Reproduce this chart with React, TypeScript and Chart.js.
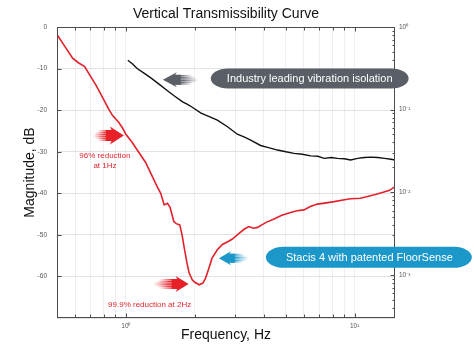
import React, { useEffect, useRef } from 'react';
import { Chart, registerables } from 'chart.js';

Chart.register(...registerables);

// ---------- data ----------
const redFreq = [0.5, 0.54, 0.585, 0.62, 0.66, 0.703, 0.74, 0.778, 0.846, 0.875, 0.93, 0.967, 1.0, 1.06, 1.14, 1.22, 1.29, 1.37, 1.42, 1.47, 1.52, 1.56, 1.62, 1.66, 1.72, 1.76, 1.8, 1.85, 1.89, 1.95, 2.0, 2.09, 2.17, 2.23, 2.3, 2.38, 2.51, 2.64, 2.8, 2.92, 3.13, 3.3, 3.45, 3.6, 3.76, 4.1, 4.44, 4.8, 5.25, 5.6, 6.0, 6.4, 6.87, 7.5, 8.13, 8.9, 9.6, 10.6, 11.5, 12.3, 13.2, 14.2, 15.0];
const redDb = [-1.8, -4.6, -7.5, -8.6, -9.5, -12.0, -14.0, -16.2, -20.0, -21.3, -22.9, -24.3, -25.8, -27.6, -30.2, -32.6, -35.4, -38.4, -40.0, -42.8, -42.4, -43.4, -46.8, -47.3, -47.6, -50.0, -53.2, -56.8, -59.2, -60.8, -61.4, -62.0, -61.6, -60.4, -58.2, -55.6, -53.6, -52.3, -51.6, -51.0, -49.6, -48.6, -48.0, -48.4, -48.2, -47.0, -46.2, -45.3, -44.6, -44.2, -44.0, -43.2, -42.6, -42.3, -42.0, -41.6, -41.3, -41.2, -40.7, -40.3, -39.8, -39.3, -38.4];

const blackFreq = [1.02, 1.07, 1.12, 1.2, 1.29, 1.4, 1.5, 1.63, 1.77, 1.86, 1.95, 2.13, 2.3, 2.51, 2.78, 3.07, 3.3, 3.51, 3.88, 4.2, 4.6, 5.0, 5.43, 5.9, 6.43, 6.9, 7.35, 7.9, 8.4, 9.0, 9.6, 10.3, 11.0, 11.8, 12.6, 13.5, 14.4, 15.0];
const blackDb = [-8.0, -8.9, -10.0, -11.1, -12.3, -13.8, -15.1, -16.6, -18.0, -18.6, -19.3, -20.7, -21.5, -22.4, -24.0, -25.8, -26.5, -27.2, -28.5, -29.0, -29.6, -30.0, -30.4, -30.6, -31.0, -31.1, -31.6, -31.4, -31.6, -31.7, -32.0, -31.6, -31.4, -31.3, -31.4, -31.6, -31.8, -32.0];

const xTickValues = [0.5, 0.6, 0.7, 0.8, 0.9, 1, 2, 3, 4, 5, 6, 7, 8, 9, 10];
const xTickLabels: Record<string, string> = { '1': '10\u2070', '10': '10\u00B9' };
const leftTickValues = [0, -10, -20, -30, -40, -50, -60, -70];
const leftTickLabels = ['0', '-10', '-20', '-30', '-40', '-50', '-60', ''];
const rightMajorValues = [1, 0.1, 0.01, 0.001];
const rightMajorLabels = ['10\u2070', '10\u207B\u00B9', '10\u207B\u00B2', '10\u207B\u00B3'];
const rightMinorMultipliers = [2, 3, 4, 5, 6, 7, 8, 9];

const TITLE = 'Vertical Transmissibility Curve';
const X_TITLE = 'Frequency, Hz';
const Y_TITLE = 'Magnitude, dB';

// annotations (data coordinates: frequency, dB)
const greyPill = { from: 2.35, to: 17.2, db: -12.4, text: 'Industry leading vibration isolation' };
const bluePill = { from: 4.09, to: 32.5, db: -55.4, text: 'Stacis 4 with patented FloorSense' };
const arrowRed1 = { tip: 0.98, db: -26.1 };
const arrowRed2 = { tip: 1.88, db: -61.8 };
const arrowGrey = { tip: 1.45, db: -12.7 };
const arrowBlue = { tip: 2.55, db: -55.6 };
const note1 = { f: 0.81, db1: -31.0, db2: -33.4, line1: '96% reduction', line2: 'at 1Hz' };
const note2 = { f: 1.27, db: -66.8, text: '99.9% reduction at 2Hz' };

const RED = '#e3212b';
const FONT = '"Liberation Sans", Arial, Helvetica, sans-serif';
const AXIS = '#4d4d4d';

function pillPath(ctx: CanvasRenderingContext2D, x0: number, x1: number, cy: number, h: number) {
  const ry = h / 2;
  const rx = Math.min(ry * 1.7, (x1 - x0) / 2);
  ctx.beginPath();
  ctx.moveTo(x0 + rx, cy - ry);
  ctx.lineTo(x1 - rx, cy - ry);
  ctx.ellipse(x1 - rx, cy, rx, ry, 0, -Math.PI / 2, Math.PI / 2);
  ctx.lineTo(x0 + rx, cy + ry);
  ctx.ellipse(x0 + rx, cy, rx, ry, 0, Math.PI / 2, Math.PI * 1.5);
  ctx.closePath();
}

function speedArrow(ctx: CanvasRenderingContext2D, tipX: number, cy: number, dir: number, len: number,
  headLen: number, headHalf: number, bodyHalf: number, rgb: number[]) {
  const baseX = tipX - dir * headLen;
  const col = (a: number) => `rgba(${rgb[0]},${rgb[1]},${rgb[2]},${a})`;
  const n = 6;
  const stripeH = (2 * bodyHalf) / n;
  for (let i = 0; i < n; i++) {
    const t = (i + 0.5) / n;
    const yy = cy - bodyHalf + i * stripeH;
    const frac = 1 - Math.abs(t - 0.5) * 0.8;
    const endX = baseX - dir * (len - headLen) * frac;
    const g = ctx.createLinearGradient(baseX + dir * 1, 0, endX, 0);
    g.addColorStop(0, col(1));
    g.addColorStop(0.35, col(0.9));
    g.addColorStop(1, col(0));
    ctx.fillStyle = g;
    ctx.fillRect(Math.min(baseX + dir, endX), yy + 0.15, Math.abs(endX - baseX - dir), stripeH - 0.3);
  }
  ctx.fillStyle = col(1);
  ctx.beginPath();
  ctx.moveTo(tipX, cy);
  ctx.lineTo(baseX, cy - headHalf);
  ctx.lineTo(baseX + dir * headLen * 0.12, cy - bodyHalf);
  ctx.lineTo(baseX - dir * 4, cy - bodyHalf);
  ctx.lineTo(baseX - dir * 4, cy + bodyHalf);
  ctx.lineTo(baseX + dir * headLen * 0.12, cy + bodyHalf);
  ctx.lineTo(baseX, cy + headHalf);
  ctx.closePath();
  ctx.fill();
}

const framePlugin = {
  id: 'frame',
  afterDraw(chart: any) {
    const { ctx, chartArea: a, scales } = chart;
    const xs = scales.x, ys = scales.y, y2 = scales.y2;
    const L = Math.round(a.left) + 0.5, R = Math.round(a.right) - 0.5;
    const T = Math.round(a.top) + 0.5, B = Math.round(a.bottom) - 0.5;
    ctx.save();
    // title
    ctx.fillStyle = '#111';
    ctx.font = `14px ${FONT}`;
    ctx.textAlign = 'center';
    ctx.textBaseline = 'middle';
    ctx.fillText(TITLE, (a.left + a.right) / 2, 14);
    // ticks
    ctx.strokeStyle = AXIS;
    ctx.lineWidth = 1;
    ctx.beginPath();
    for (const v of xTickValues) {
      const px = Math.round(xs.getPixelForValue(v)) + 0.5;
      if (px <= L + 1 || px >= R - 1) continue;
      const len = xTickLabels[String(v)] ? 4 : 3;
      ctx.moveTo(px, B); ctx.lineTo(px, B - len);
      ctx.moveTo(px, T); ctx.lineTo(px, T + len);
    }
    for (const v of leftTickValues) {
      const py = Math.round(ys.getPixelForValue(v)) + 0.5;
      if (py <= T + 1 || py >= B - 1) continue;
      ctx.moveTo(L, py); ctx.lineTo(L + 4, py);
    }
    const e0 = Math.floor(Math.log10(y2.min)), e1 = Math.ceil(Math.log10(y2.max));
    for (let e = e0; e <= e1; e++) {
      for (const m of [1, ...rightMinorMultipliers]) {
        const v = m * Math.pow(10, e);
        if (v < y2.min || v > y2.max) continue;
        const py = Math.round(y2.getPixelForValue(v)) + 0.5;
        if (py <= T + 1 || py >= B - 1) continue;
        const len = m === 1 ? 4 : 2;
        ctx.moveTo(R, py); ctx.lineTo(R - len, py);
      }
    }
    ctx.stroke();
    // box
    ctx.strokeStyle = AXIS;
    ctx.strokeRect(L, T, R - L, B - T);

    // annotations
    const px = (f: number) => xs.getPixelForValue(f);
    const py = (d: number) => ys.getPixelForValue(d);

    // grey pill
    pillPath(ctx, px(greyPill.from), px(greyPill.to), py(greyPill.db), 20);
    ctx.fillStyle = '#5a5e66';
    ctx.fill();
    ctx.fillStyle = '#ffffff';
    ctx.font = `11px ${FONT}`;
    ctx.textAlign = 'center';
    ctx.textBaseline = 'middle';
    ctx.fillText(greyPill.text, (px(greyPill.from) + px(greyPill.to)) / 2, py(greyPill.db) + 0.5);

    // blue pill
    pillPath(ctx, px(bluePill.from), px(bluePill.to), py(bluePill.db), 21);
    ctx.fillStyle = '#1b97c9';
    ctx.fill();
    ctx.fillStyle = '#ffffff';
    ctx.fillText(bluePill.text, (px(bluePill.from) + px(bluePill.to)) / 2 + 0.5, py(bluePill.db) + 0.5);

    // arrows
    speedArrow(ctx, px(arrowRed1.tip), py(arrowRed1.db), 1, 32, 14, 9, 5.5, [232, 33, 40]);
    speedArrow(ctx, px(arrowRed2.tip), py(arrowRed2.db), 1, 37, 13, 8, 5, [232, 33, 40]);
    speedArrow(ctx, px(arrowGrey.tip), py(arrowGrey.db), -1, 37, 14, 7.5, 5, [90, 94, 102]);
    speedArrow(ctx, px(arrowBlue.tip), py(arrowBlue.db), -1, 31, 12, 7, 4.5, [27, 151, 201]);

    // red notes
    ctx.fillStyle = '#e5262e';
    ctx.font = `8px ${FONT}`;
    ctx.textAlign = 'center';
    ctx.textBaseline = 'middle';
    ctx.fillText(note1.line1, px(note1.f), py(note1.db1));
    ctx.fillText(note1.line2, px(note1.f), py(note1.db2));
    ctx.fillText(note2.text, px(note2.f), py(note2.db));
    ctx.restore();
  },
};

export default function App() {
  const ref = useRef<HTMLCanvasElement>(null);
  useEffect(() => {
    const canvas = ref.current!;
    const chart = new Chart(canvas, {
      type: 'line',
      data: {
        datasets: [
          {
            label: 'Industry leading vibration isolation',
            data: blackFreq.map((f, i) => ({ x: f, y: blackDb[i] })),
            borderColor: '#111111',
            borderWidth: 1.4,
            pointRadius: 0,
            tension: 0,
            fill: false,
            xAxisID: 'x',
            yAxisID: 'y',
          },
          {
            label: 'Stacis 4 with patented FloorSense',
            data: redFreq.map((f, i) => ({ x: f, y: redDb[i] })),
            borderColor: RED,
            borderWidth: 1.6,
            pointRadius: 0,
            tension: 0,
            fill: false,
            xAxisID: 'x',
            yAxisID: 'y',
          },
        ],
      },
      options: {
        responsive: false,
        animation: false,
        devicePixelRatio: 1,
        layout: { padding: { top: 27, left: 0, right: 0, bottom: 0 } },
        plugins: {
          legend: { display: false },
          tooltip: { enabled: false },
          title: { display: false },
        },
        scales: {
          x: {
            type: 'logarithmic',
            position: 'bottom',
            min: 0.5,
            max: 15,
            afterBuildTicks: (s: any) => { s.ticks = xTickValues.map((v) => ({ value: v })); },
            afterFit: (s: any) => { s.height = 39; },
            grid: { color: '#efefef', lineWidth: 1, drawTicks: false },
            border: { display: false },
            ticks: {
              autoSkip: false,
              maxRotation: 0,
              padding: 4,
              color: '#555',
              font: { family: FONT, size: 6.5 },
              callback: (v: any) => xTickLabels[String(v)] ?? '',
            },
            title: {
              display: true,
              text: X_TITLE,
              color: '#111',
              font: { family: FONT, size: 14 },
              padding: { top: 0, bottom: 13 },
            },
          },
          y: {
            type: 'linear',
            position: 'left',
            min: -70,
            max: 0,
            afterBuildTicks: (s: any) => { s.ticks = leftTickValues.map((v) => ({ value: v })); },
            afterFit: (s: any) => { s.width = 57; },
            grid: { color: '#e2e2e2', lineWidth: 1, drawTicks: false },
            border: { display: false },
            ticks: {
              padding: 10,
              color: '#555',
              font: { family: FONT, size: 6.5 },
              callback: (v: any) => {
                const i = leftTickValues.indexOf(Number(v));
                return i >= 0 ? leftTickLabels[i] : '';
              },
            },
            title: {
              display: true,
              text: Y_TITLE,
              color: '#111',
              font: { family: FONT, size: 14 },
              padding: { top: 22, bottom: 0 },
            },
          },
          y2: {
            type: 'logarithmic',
            position: 'right',
            min: Math.pow(10, -3.5),
            max: 1,
            afterBuildTicks: (s: any) => { s.ticks = rightMajorValues.map((v) => ({ value: v })); },
            afterFit: (s: any) => { s.width = 79; },
            grid: { display: false, drawTicks: false },
            border: { display: false },
            ticks: {
              padding: 4,
              color: '#555',
              font: { family: FONT, size: 6.5 },
              callback: (v: any) => {
                const i = rightMajorValues.findIndex((m) => Math.abs(m - Number(v)) < m * 1e-6);
                return i >= 0 ? rightMajorLabels[i] : '';
              },
            },
          },
        },
      } as any,
      plugins: [framePlugin],
    });
    return () => chart.destroy();
  }, []);

  return (
    <div style={{ position: 'fixed', left: 0, top: 0, width: 474, height: 357, background: '#ffffff' }}>
      <canvas ref={ref} width={474} height={357} style={{ display: 'block', width: 474, height: 357 }} />
    </div>
  );
}
